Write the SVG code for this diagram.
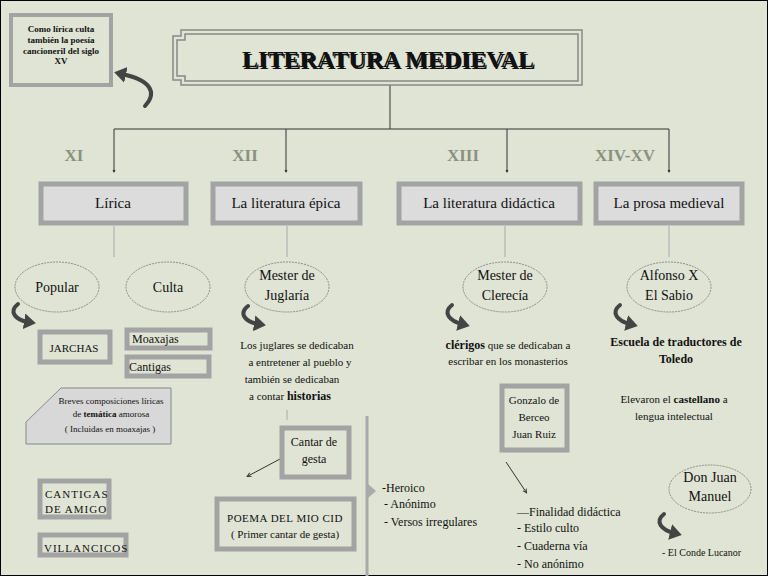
<svg xmlns="http://www.w3.org/2000/svg" width="768" height="576" viewBox="0 0 768 576">
<style>
text{font-family:"Liberation Serif",serif;fill:#111;text-anchor:middle}
.c{fill:#8a9180;font-weight:bold;font-size:17px}
.b{fill:#dcdcdc;stroke:#a3a3a3;stroke-width:5}
.w{fill:none;stroke:#a3a3a3;stroke-width:5}
.e{fill:none;stroke:#777;stroke-width:0.8;stroke-dasharray:2 1}
.l{stroke:#333;stroke-width:1;fill:none}
.g{stroke:#aaa;stroke-width:1;fill:none}
.ca{fill:none;stroke:#444;stroke-width:4;stroke-linecap:round}
.lt{text-anchor:start}
</style>
<defs>
<marker id="a" markerWidth="6" markerHeight="6" refX="3" refY="3" orient="auto"><path d="M0,1L4,3L0,5" fill="none" stroke="#333"/></marker>
<marker id="t" markerWidth="4" markerHeight="4" refX="2" refY="2" orient="auto"><path d="M0,0.5L3,2L0,3.5z" fill="#333"/></marker>
<marker id="h" markerWidth="4" markerHeight="4" refX="1" refY="2" orient="auto"><path d="M0,0L3,2L0,4z" fill="#444"/></marker>
</defs>
<rect width="768" height="576" fill="#dfe4d4" stroke="#000" stroke-width="2"/>
<g id="connectors">
<path class="l" d="M390,85V129M114,129H669"/>
<path class="l" d="M114,129V172" marker-end="url(#t)"/>
<path class="l" d="M286,129V172" marker-end="url(#t)"/>
<path class="l" d="M507,129V172" marker-end="url(#t)"/>
<path class="l" d="M669,129V172" marker-end="url(#t)"/>
<path class="g" d="M114,226V257M287,226V257M505,226V257M669,226V257M287,410V420"/>
<path class="l" d="M280,459L248,476" marker-end="url(#a)"/>
<path class="l" d="M506,462L526,492" marker-end="url(#a)"/>
<path d="M367,416V576" stroke="#aaa" stroke-width="3"/>
<path d="M368,484L376,491L368,498z" fill="#aaa"/>
<path class="ca" d="M145,106C158,92 150,80 122,74" marker-end="url(#h)"/>
<path class="ca" d="M18,304C8,312 16,320 28,322" marker-end="url(#h)"/>
<path class="ca" d="M248,306C238,314 246,322 258,324" marker-end="url(#h)"/>
<path class="ca" d="M452,305C442,313 450,321 462,324" marker-end="url(#h)"/>
<path class="ca" d="M620,305C610,313 618,321 630,324" marker-end="url(#h)"/>
<path class="ca" d="M664,514C654,522 662,530 674,533" marker-end="url(#h)"/>
</g>
<g id="note"><rect x="11" y="15" width="100" height="70" fill="#dfe4d4" stroke="#a3a3a3" stroke-width="4"/>
<text x="61" y="32" font-size="9" font-weight="bold">Como lírica culta</text><text x="61" y="43" font-size="9" font-weight="bold">también la poesía</text><text x="61" y="54" font-size="9" font-weight="bold">cancioneril del siglo</text><text x="61" y="64" font-size="9" font-weight="bold">XV</text></g>
<g id="title">
<path d="M173,36H181V30H582V85H181V80H173Z" fill="none" stroke="#888" stroke-width="1.5"/>
<path d="M177,40H185V34H578V81H185V76H177Z" fill="none" stroke="#888" stroke-width="1.5"/>
<text x="388" y="67" font-size="24" font-weight="bold" fill="#999" transform="translate(1.5,1.5)">LITERATURA MEDIEVAL</text>
<text x="388" y="67" font-size="24" font-weight="bold">LITERATURA MEDIEVAL</text></g>
<text class="c" x="74" y="161">XI</text><text class="c" x="245" y="161">XII</text><text class="c" x="463" y="161">XIII</text><text class="c" x="625" y="161">XIV-XV</text>
<g id="lirica"><rect class="b" x="41" y="184" width="145" height="39"/><text x="113" y="208" font-size="15">Lírica</text></g>
<g id="epica"><rect class="b" x="213" y="184" width="147" height="39"/><text x="286" y="208" font-size="15">La literatura épica</text></g>
<g id="didactica"><rect class="b" x="399" y="184" width="181" height="39" stroke-width="6"/><text x="489" y="208" font-size="15">La literatura didáctica</text></g>
<g id="prosa"><rect class="b" x="596" y="184" width="146" height="39"/><text x="669" y="208" font-size="15">La prosa medieval</text></g>
<g id="popular"><ellipse class="e" cx="57" cy="287" rx="42" ry="25"/><text x="57" y="292" font-size="14">Popular</text></g>
<g id="culta"><ellipse class="e" cx="168" cy="287" rx="42" ry="25"/><text x="168" y="292" font-size="14">Culta</text></g>
<g id="juglaria"><ellipse class="e" cx="287" cy="287" rx="42" ry="25"/><text x="287" y="280" font-size="14">Mester de</text><text x="287" y="300" font-size="14">Juglaría</text></g>
<g id="clerecia"><ellipse class="e" cx="505" cy="287" rx="42" ry="25"/><text x="505" y="280" font-size="14">Mester de</text><text x="505" y="300" font-size="14">Clerecía</text></g>
<g id="alfonso"><ellipse class="e" cx="669" cy="287" rx="42" ry="25"/><text x="669" y="280" font-size="14">Alfonso X</text><text x="669" y="300" font-size="14">El Sabio</text></g>
<g id="donjuan"><ellipse class="e" cx="710" cy="489" rx="41" ry="24"/><text x="710" y="482" font-size="14">Don Juan</text><text x="710" y="501" font-size="14">Manuel</text></g>
<g id="jarchas"><rect class="w" x="40" y="332" width="70" height="30"/><text x="74" y="352" font-size="11">JARCHAS</text></g>
<g id="moaxajas"><rect class="w" x="127" y="330" width="83" height="18"/><text x="132" y="343" font-size="12" class="lt" fill="#333">Moaxajas</text></g>
<g id="cantigas"><rect class="w" x="127" y="357" width="82" height="19"/><text x="129" y="371" font-size="12" class="lt" fill="#333">Cantigas</text></g>
<g id="breves"><path d="M61,388H171V444H26V422Z" fill="#d8d8d8" stroke="#888"/>
<text x="111" y="404" font-size="9">Breves composiciones líricas</text><text x="111" y="417" font-size="9">de <tspan font-weight="bold">temática</tspan> amorosa</text><text x="110" y="432" font-size="9">( Incluidas en moaxajas )</text></g>
<g id="amigo"><rect class="w" x="40" y="481" width="69" height="36"/><text x="45" y="498" font-size="11" class="lt" letter-spacing="1">CANTIGAS</text><text x="45" y="513" font-size="11" class="lt" letter-spacing="1">DE AMIGO</text></g>
<g id="villancicos"><rect class="w" x="40" y="535" width="86" height="20"/><text x="44" y="552" font-size="11" class="lt" letter-spacing="1">VILLANCICOS</text></g>
<g id="juglares"><text x="297" y="349" font-size="11">Los juglares se dedicaban</text><text x="300" y="366" font-size="11">a entretener al pueblo y</text><text x="292" y="383" font-size="11">también se dedicaban</text><text x="290" y="400" font-size="11">a contar <tspan font-weight="bold" font-size="12">historias</tspan></text></g>
<g id="cantar"><rect class="w" x="282" y="428" width="67" height="49"/><text x="314" y="446" font-size="12">Cantar de</text><text x="314" y="463" font-size="12">gesta</text></g>
<g id="poema"><rect class="w" x="217" y="499" width="137" height="50" stroke-width="7"/><text x="285" y="522" font-size="11" letter-spacing="0.5">POEMA DEL MIO CID</text><text x="285" y="538" font-size="11">( Primer cantar de gesta)</text></g>
<g id="epicalist"><text class="lt" x="382" y="492" font-size="12">-Heroico</text><text class="lt" x="384" y="508" font-size="12">-  Anónimo</text><text class="lt" x="384" y="526" font-size="12">-  Versos irregulares</text></g>
<g id="clerigos"><text x="508" y="349" font-size="11"><tspan font-weight="bold" font-size="12">clérigos</tspan> que se dedicaban a</text><text x="508" y="365" font-size="11">escribar en los monasterios</text></g>
<g id="gonzalo"><rect class="w" x="502" y="386" width="65" height="64"/><text x="534" y="404" font-size="11">Gonzalo de</text><text x="534" y="421" font-size="11">Berceo</text><text x="534" y="438" font-size="11">Juan Ruiz</text></g>
<g id="didlist"><text class="lt" x="517" y="516" font-size="12">—Finalidad didáctica</text><text class="lt" x="517" y="532" font-size="12">- Estilo culto</text><text class="lt" x="517" y="550" font-size="12">- Cuaderna vía</text><text class="lt" x="517" y="568" font-size="12">- No anónimo</text></g>
<g id="escuela"><text x="676" y="346" font-size="12" font-weight="bold">Escuela de traductores de</text><text x="676" y="363" font-size="12" font-weight="bold">Toledo</text></g>
<g id="elevaron"><text x="674" y="403" font-size="11">Elevaron el <tspan font-weight="bold">castellano</tspan> a</text><text x="674" y="420" font-size="11">lengua intelectual</text></g>
<text class="lt" x="662" y="556" font-size="10">-  El Conde Lucanor</text>
</svg>
